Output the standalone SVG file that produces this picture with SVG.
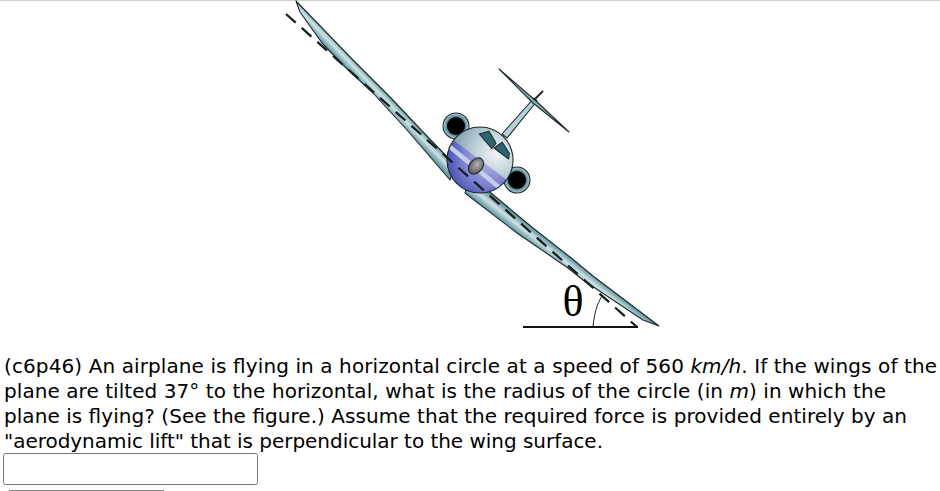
<svg xmlns="http://www.w3.org/2000/svg" width="940" height="491" viewBox="0 0 940 491">
<style>
.t{font-family:"DejaVu Sans",Verdana,sans-serif;font-size:20px;fill:#000}
.i{font-style:italic}
.o{stroke:#1c2a2e;stroke-width:1.1;stroke-linejoin:round}
.d{fill:none;stroke:#15211f;stroke-width:2.3}
</style>
<defs>
<linearGradient id="wingL" gradientUnits="userSpaceOnUse" x1="385.700" y1="108.600" x2="394.300" y2="100.400">
<stop offset="0" stop-color="#6d9da6"/><stop offset=".5" stop-color="#cfe3e6"/><stop offset="1" stop-color="#5f929c"/>
</linearGradient>
<linearGradient id="wingR" gradientUnits="userSpaceOnUse" x1="526" y1="239.100" x2="534" y2="228.900">
<stop offset="0" stop-color="#6d9da6"/><stop offset=".5" stop-color="#cfe3e6"/><stop offset="1" stop-color="#5f929c"/>
</linearGradient>
<radialGradient id="body" gradientUnits="userSpaceOnUse" cx="497" cy="153" r="46">
<stop offset="0" stop-color="#f2f5f6"/><stop offset=".5" stop-color="#bccfd8"/><stop offset="1" stop-color="#7f9cab"/>
</radialGradient>
<radialGradient id="blue" gradientUnits="userSpaceOnUse" cx="490" cy="158" r="50">
<stop offset="0" stop-color="#b4b8e4"/><stop offset=".55" stop-color="#7d81d2"/><stop offset="1" stop-color="#3a3ca6"/>
</radialGradient>
<radialGradient id="nose" cx=".5" cy=".4" r=".6">
<stop offset="0" stop-color="#b5b5b5"/><stop offset="1" stop-color="#555"/>
</radialGradient>
<radialGradient id="ring">
<stop offset=".65" stop-color="#3f7580"/><stop offset="1" stop-color="#b9d3d8"/>
</radialGradient>
<clipPath id="fus"><circle cx="480" cy="160" r="33"/></clipPath>
</defs>
<rect width="940" height="491" fill="#fff"/>
<rect x="0" y="0" width="940" height="1" fill="#cfcfcf"/>
<g id="airplane">
<g id="tail">
<path class="o" d="M502 134L534 98L537 101L507 138Z" fill="#b4d2d7"/>
<path class="o" d="M499 69L536 101L569 132L533 103Z" fill="#8fb6bc"/>
<path d="M534 100L543 91" stroke="#1c2a2e" stroke-width="2"/>
</g>
<g id="wing-left">
<path class="o" fill="url(#wingL)" d="M296 1L353 60L390 97L423 132L455 165L450 180L407 130L373 93L343 65L322 43L300 12Z"/>
</g>
<g id="wing-right">
<path class="o" fill="url(#wingR)" d="M485 188L533 228L570 257L593 276L659 326L643 320L583 280L568 268L517 233L465 193L470 180Z"/>
</g>
<g id="engine-left">
<circle cx="456" cy="126" r="13" fill="url(#ring)" class="o"/><circle cx="456" cy="126" r="9" fill="#000"/>
</g>
<g id="engine-right">
<circle cx="517" cy="180" r="13" fill="url(#ring)" class="o"/><circle cx="517" cy="180" r="9" fill="#000"/>
</g>
<g id="fuselage">
<circle cx="480" cy="160" r="33" fill="url(#body)"/>
<g clip-path="url(#fus)">
<path d="M445 134L515 186L490 220L430 190Z" fill="url(#blue)"/>
<path d="M450 147L500 188" stroke="#c3cfe6" stroke-width="4.500"/>
</g>
<circle cx="480" cy="160" r="33" fill="none" class="o"/>
<path d="M479.300 134L489 131.300L496 143.300L491.700 148.300Z" fill="#2d6670" class="o"/>
<path d="M494 148L502.300 142.300L509.300 153.300L508.700 159Z" fill="#2d6670" class="o"/>
<ellipse cx="476" cy="166" rx="6.500" ry="9" transform="rotate(40 476 166)" fill="url(#nose)" class="o"/>
</g>
</g>
<g id="connectors">
<path class="d" stroke-dasharray="13 8" d="M286 14L637 327"/>
<path d="M523 327H638" stroke="#111" stroke-width="2" fill="none"/>
<path d="M593 327C594 314 597 304 602 296" stroke="#222" stroke-width="1" fill="none"/>
</g>
<text x="573" y="316" text-anchor="middle" style="font-family:'Liberation Serif',serif;font-size:44px;fill:#000">θ</text>
<text class="t" x="4" y="373" textLength="933">(c6p46) An airplane is flying in a horizontal circle at a speed of 560 <tspan class="i">km/h</tspan>. If the wings of the</text>
<text class="t" x="4" y="398" textLength="882">plane are tilted 37° to the horizontal, what is the radius of the circle (in <tspan class="i">m</tspan>) in which the</text>
<text class="t" x="4" y="423" textLength="903">plane is flying? (See the figure.) Assume that the required force is provided entirely by an</text>
<text class="t" x="4" y="448" textLength="599">"aerodynamic lift" that is perpendicular to the wing surface.</text>
<rect x="3.500" y="453.500" width="254" height="31" rx="2" fill="#fff" stroke="#767676"/>
<rect x="9" y="490" width="155" height="1" fill="#8a8a8a"/>
</svg>
